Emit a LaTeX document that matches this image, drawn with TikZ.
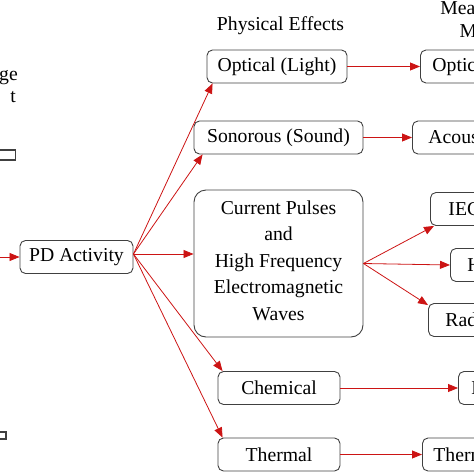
\documentclass[tikz,border=0pt]{standalone}
\usepackage{fontspec}
\setmainfont{Liberation Serif}
\usetikzlibrary{arrows.meta,calc}
\definecolor{arrred}{RGB}{204,20,20}
\definecolor{boxline}{RGB}{64,64,64}
\begin{document}
\begin{tikzpicture}[x=1pt,y=-1pt,
  box/.style={draw=boxline, line width=0.9pt, rounded corners=5.5pt, inner sep=0pt, minimum height=33pt, font=\fontsize{19.7}{24}\selectfont},
  rbox/.style={box, anchor=west, text width=110pt, align=left, inner xsep=#1},
  arr/.style={draw=arrred, line width=0.8pt, -{Triangle[length=10pt,width=8pt,fill=arrred]}},
  lbl/.style={font=\fontsize{19.7}{23}\selectfont, align=center, inner sep=0pt}]
\useasboundingbox (0,0) rectangle (474,474);
\clip (0,0) rectangle (474,474);
% headers
\node[lbl] (hpe) at (280.5,26) {Physical Effects};
\node[lbl] (hmm) at (494,19.5) {Measurement\\Methods};
\node[lbl, anchor=base east] (lg1) at (18,80) {ge};
\node[lbl, anchor=base east] (lg2) at (16,102) {t};
% left fragments
\draw[line width=1.2pt, draw=boxline] (-10,150) rectangle (15.5,160);
\draw[line width=1.2pt, draw=boxline] (-10,432) rectangle (6,439);
% middle boxes
\node[box, minimum width=113pt] (PD) at (76.5,257) {PD Activity};
\node[box, minimum width=140pt] (opt) at (277,66.5) {Optical (Light)};
\node[box, minimum width=169pt] (son) at (278.5,137.5) {Sonorous (Sound)};
\node[box, minimum width=169pt, minimum height=147pt, rounded corners=12pt] (cur) at (278.5,263.5) {};
\node[lbl, font=\fontsize{19.7}{26.5}\selectfont] (curtxt) at ($(cur.center)+(0,-3)$) {Current Pulses\\and\\High Frequency\\Electromagnetic\\Waves};
\node[box, minimum width=122pt] (chem) at (279,388) {Chemical};
\node[box, minimum width=122pt] (ther) at (279,454.5) {Thermal};
% right boxes
\node[rbox=12pt] (mopt) at (420,66.5) {Optical};
\node[rbox=16pt] (mac) at (412,137.5) {Acoustic};
\node[rbox=18pt] (miec) at (430,209) {IEC 60270};
\node[rbox=17pt] (mhf) at (450,265) {HFCT};
\node[rbox=17pt] (mrad) at (428,320) {Radio};
\node[rbox=13pt] (mchem) at (458,388) {DGA};
\node[rbox=11pt] (mther) at (422,454.5) {Thermal};
% arrows
\coordinate (lin) at (0,257);
\draw[arr] (lin) -- (PD.west);
\coordinate (pdo) at ($(PD.east)+(0,-3)$);
\draw[arr] (pdo) -- ($(opt.south west)+(6,0)$);
\draw[arr] (pdo) -- ($(son.south west)+(9,0)$);
\draw[arr] (pdo) -- (pdo -| cur.west);
\draw[arr] (pdo) -- ($(chem.north west)+(5,0)$);
\draw[arr] (pdo) -- ($(ther.north west)+(5,0)$);
\draw[arr] (cur.east) -- ($(miec.south west)+(4,0)$);
\draw[arr] (cur.east) -- (mhf.west);
\draw[arr] (cur.east) -- ($(mrad.north west)+(0,2)$);
\draw[arr] (opt.east) -- (mopt.west);
\draw[arr] (son.east) -- (mac.west);
\draw[arr] (chem.east) -- (mchem.west);
\draw[arr] (ther.east) -- (mther.west);
\end{tikzpicture}
\end{document}
